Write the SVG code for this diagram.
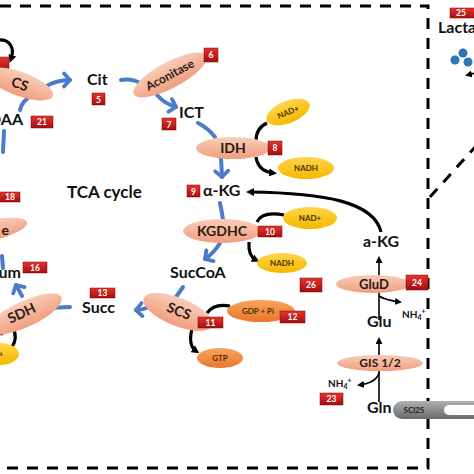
<svg xmlns="http://www.w3.org/2000/svg" width="474" height="474" viewBox="0 0 474 474">
<defs>
<linearGradient id="gS" x1="0" y1="0" x2="0" y2="1"><stop offset="0" stop-color="#F9CDB9"/><stop offset="1" stop-color="#F09E7E"/></linearGradient>
<linearGradient id="gY" x1="0" y1="0" x2="0" y2="1"><stop offset="0" stop-color="#FFD54A"/><stop offset="1" stop-color="#F5B800"/></linearGradient>
<linearGradient id="gO" x1="0" y1="0" x2="0" y2="1"><stop offset="0" stop-color="#F7A45E"/><stop offset="1" stop-color="#E8772A"/></linearGradient>
<linearGradient id="gR" x1="0" y1="0" x2="0" y2="1"><stop offset="0" stop-color="#E8332E"/><stop offset="1" stop-color="#A50F0F"/></linearGradient>
<linearGradient id="gG" x1="0" y1="0" x2="0" y2="1"><stop offset="0" stop-color="#B0B0B0"/><stop offset="1" stop-color="#6A6A6A"/></linearGradient>
<marker id="bh" markerWidth="20" markerHeight="20" refX="0" refY="0" orient="auto" markerUnits="userSpaceOnUse" viewBox="-10 -10 20 20">
<path d="M-6,-6.5 L0,0 L-6,6.5" fill="none" stroke="#4A7CC9" stroke-width="3.8" stroke-linecap="round" stroke-linejoin="round"/>
</marker>
<marker id="kh" markerWidth="8" markerHeight="8" refX="4" refY="4" orient="auto" markerUnits="userSpaceOnUse" viewBox="0 0 8 8">
<path d="M0,0 L8,4 L0,8 z" fill="#000"/>
</marker>
<marker id="th" markerWidth="7" markerHeight="7" refX="5" refY="3.5" orient="auto" markerUnits="userSpaceOnUse" viewBox="0 0 7 7">
<path d="M0,0 L7,3.5 L0,7 z" fill="#000"/>
</marker>
<style>
.dash{fill:none;stroke:#000;stroke-width:3;stroke-dasharray:11 9}
.blue{fill:none;stroke:#4A7CC9;stroke-width:4;stroke-linecap:round}
.blk{fill:none;stroke:#000;stroke-width:3.2}
.thin{fill:none;stroke:#000;stroke-width:1.6}
.enz{fill:url(#gS)}
.yel{fill:url(#gY)}
.org{fill:url(#gO)}
.red{fill:url(#gR);stroke:#7A0A0A;stroke-width:0.5}
.met{font-family:Lato,"Liberation Sans",sans-serif;font-weight:bold;font-size:16px;fill:#111}
.et{font-family:Lato,"Liberation Sans",sans-serif;font-weight:bold;font-size:14px;fill:#2a1a14;text-anchor:middle}
.sm{font-family:Lato,"Liberation Sans",sans-serif;font-weight:bold;font-size:8px;fill:#4a3000;text-anchor:middle}
.rt{font-family:Lato,"Liberation Sans",sans-serif;font-weight:bold;font-size:8.5px;fill:#fff;text-anchor:middle}
</style>
</defs>

<g id="box">
<path class="dash" d="M0,6 L428,6 L428,468 L0,468"/>
<path class="dash" d="M430,197 L476,146"/>
</g>

<g id="connectors">
<path class="blue" d="M45,87 Q56,80 70,80" marker-end="url(#bh)"/>
<path class="blue" d="M20,110 Q22,101 31,96"/>
<path class="blue" d="M3,152 L4,131"/>
<path class="blue" d="M121,80 Q132,78 142,84"/>
<path class="blue" d="M157,95 Q165,104 176,107" marker-end="url(#bh)"/>
<path class="blue" d="M198,123 Q208,128 215,137"/>
<path class="blue" d="M221,158 L222,177" marker-end="url(#bh)"/>
<path class="blue" d="M220,203 Q222,212 223,220"/>
<path class="blue" d="M220,243 Q214,253 205,259" marker-end="url(#bh)"/>
<path class="blue" d="M183,287 L176,297"/>
<path class="blue" d="M160,301 Q150,309 136,310" marker-end="url(#bh)"/>
<path class="blue" d="M70,307 L50,308"/>
<path class="blue" d="M22,296 L16,285" marker-end="url(#bh)"/>
<path class="blue" d="M3,268 L2,256"/>

<path class="blk" d="M-2,40 C10,39 15,48 11,59" marker-end="url(#kh)"/>
<path class="blk" d="M256,141 Q256,128 267,123"/>
<path class="blk" d="M256,157 Q258,171 273,173" marker-end="url(#kh)"/>
<path class="blk" d="M381,232 C374,202 325,193 250,192" marker-end="url(#kh)"/>
<path class="blk" d="M257,222 Q262,211 284,215"/>
<path class="blk" d="M249,242 Q248,256 256,260" marker-end="url(#kh)"/>
<path class="blk" d="M207,313 Q214,303 230,306"/>
<path class="blk" d="M193,325 Q187,345 196,351" marker-end="url(#kh)"/>
<path class="blk" d="M13,328 Q18,338 12,347"/>

<path class="thin" d="M379,276 L379,258" marker-end="url(#th)"/>
<path class="thin" d="M379,320 L379,292"/>
<path class="thin" d="M379,296 Q385,300 400,302" marker-end="url(#th)"/>
<path class="thin" d="M379,357 L379,339" marker-end="url(#th)"/>
<path class="thin" d="M379,402 L379,368"/>
<path class="thin" d="M379,373 Q376,383 359,385" marker-end="url(#th)"/>
<path class="thin" d="M480,410 L452,410" marker-end="url(#th)"/>
<path class="thin" d="M480,72 L467,75" marker-end="url(#th)"/>
</g>

<g id="CS">
<rect class="red" x="-5" y="57" width="14" height="15"/>
<ellipse class="enz" cx="20" cy="84" rx="35" ry="12" transform="rotate(20 20 84)"/>
<text class="et" x="20" y="89" transform="rotate(20 20 84)">CS</text>
</g>
<g id="Cit"><text class="met" x="87" y="85">Cit</text><rect class="red" x="92" y="93" width="13" height="12"/><text class="rt" x="98.5" y="102.5">5</text></g>
<g id="OAA"><text class="met" x="23" y="125" text-anchor="end">OAA</text><rect class="red" x="31" y="116" width="22" height="12"/><text class="rt" x="42" y="125">21</text></g>
<g id="Aconitase">
<ellipse class="enz" cx="170" cy="75" rx="41" ry="13" transform="rotate(-28 170 75)"/>
<text class="et" x="170" y="79" transform="rotate(-28 170 75)" style="font-size:12px">Aconitase</text>
<rect class="red" x="204" y="48" width="14" height="14"/><text class="rt" x="211" y="58">6</text>
</g>
<g id="ICT"><text class="met" x="179" y="118">ICT</text><rect class="red" x="162" y="118" width="14" height="12"/><text class="rt" x="169" y="127.5">7</text></g>
<g id="IDH">
<ellipse class="enz" cx="233" cy="148" rx="37" ry="11"/>
<text class="et" x="233" y="153">IDH</text>
<rect class="red" x="268" y="141" width="14" height="14"/><text class="rt" x="275" y="151">8</text>
</g>
<g id="NAD1"><ellipse class="yel" cx="288" cy="112" rx="23" ry="11" transform="rotate(-22 288 112)"/><text class="sm" x="288" y="115" transform="rotate(-22 288 112)">NAD+</text></g>
<g id="NADH1"><ellipse class="yel" cx="306" cy="168" rx="28" ry="11"/><text class="sm" x="306" y="171">NADH</text></g>
<g id="aKG"><rect class="red" x="187" y="185" width="13" height="12"/><text class="rt" x="193.5" y="194.5">9</text><text class="met" x="203" y="196">α-KG</text></g>
<g id="TCA"><text class="met" x="67" y="198" style="font-size:17px">TCA cycle</text></g>
<g id="KGDHC">
<ellipse class="enz" cx="222" cy="231" rx="39" ry="12"/>
<text class="et" x="222" y="236">KGDHC</text>
<rect class="red" x="258" y="226" width="24" height="11"/><text class="rt" x="270" y="234.5">10</text>
</g>
<g id="NAD2"><ellipse class="yel" cx="310" cy="218" rx="27" ry="11"/><text class="sm" x="310" y="221">NAD+</text></g>
<g id="NADH2"><ellipse class="yel" cx="282" cy="263" rx="25" ry="10"/><text class="sm" x="282" y="266">NADH</text></g>
<g id="L26"><rect class="red" x="300" y="278" width="22" height="14"/><text class="rt" x="311" y="288">26</text></g>
<g id="SucCoA"><text class="met" x="170" y="278">SucCoA</text></g>
<g id="SCS">
<ellipse class="enz" cx="178" cy="312" rx="37" ry="14" transform="rotate(22 178 312)"/>
<text class="et" x="179" y="316" transform="rotate(22 179 311)">SCS</text>
<rect class="red" x="198" y="317" width="25" height="11"/><text class="rt" x="210.5" y="325.5">11</text>
</g>
<g id="GDP"><ellipse class="org" cx="261" cy="311" rx="34" ry="11"/><text class="sm" x="258" y="314">GDP + Pi</text><rect class="red" x="280" y="311" width="25" height="12"/><text class="rt" x="292.5" y="320">12</text></g>
<g id="GTP"><ellipse class="org" cx="220" cy="358" rx="23" ry="10"/><text class="sm" x="220" y="361">GTP</text></g>
<g id="Succ"><text class="met" x="82" y="313">Succ</text><rect class="red" x="90" y="288" width="25" height="10"/><text class="rt" x="102.5" y="296">13</text></g>
<g id="SDH">
<rect class="red" x="-5" y="323" width="8" height="12"/>
<ellipse class="enz" cx="25" cy="314" rx="40" ry="13" transform="rotate(-25 25 314)"/>
<text class="et" x="22" y="318" transform="rotate(-25 22 314)">SDH</text>
</g>
<g id="FAD"><ellipse class="yel" cx="0" cy="354" rx="19" ry="11"/><text class="sm" x="1" y="357">+</text></g>
<g id="Fum"><text class="met" x="21" y="278" text-anchor="end">Fum</text><rect class="red" x="23" y="262" width="24" height="11"/><text class="rt" x="35" y="270.5">16</text></g>
<g id="Fumarase">
<ellipse class="enz" cx="-8" cy="230" rx="36" ry="10" transform="rotate(-12 -8 230)"/>
<text class="et" x="9" y="235" style="text-anchor:end">e</text>
<rect class="red" x="-5" y="192" width="25" height="10"/><text class="rt" x="10" y="200">18</text>
</g>

<g id="aKG2"><text class="met" x="363" y="247">a-KG</text></g>
<g id="GluD">
<ellipse class="enz" cx="373" cy="284" rx="37" ry="9"/>
<text class="et" x="374" y="289" style="font-size:13px">GluD</text>
<rect class="red" x="406" y="275" width="22" height="15"/><text class="rt" x="417" y="285.5">24</text>
</g>
<g id="NH4a"><text class="met" x="402" y="318" style="font-size:10px">NH<tspan dy="2" style="font-size:7px">4</tspan><tspan dy="-6" style="font-size:7px">+</tspan></text></g>
<g id="Glu"><text class="met" x="367" y="327">Glu</text></g>
<g id="GIS">
<ellipse class="enz" cx="380" cy="363" rx="43" ry="8"/>
<text class="et" x="380" y="367" style="font-size:12px">GIS 1/2</text>
</g>
<g id="NH4b"><text class="met" x="328" y="387" style="font-size:10px">NH<tspan dy="2" style="font-size:7px">4</tspan><tspan dy="-6" style="font-size:7px">+</tspan></text><rect class="red" x="320" y="393" width="23" height="12"/><text class="rt" x="331.5" y="402">23</text></g>
<g id="Gln"><text class="met" x="367" y="413">Gln</text></g>
<g id="SCl25">
<rect x="393" y="401" width="90" height="18" rx="9" fill="url(#gG)"/>
<rect x="444" y="405" width="40" height="10" rx="5" fill="#fff"/>
<text class="sm" x="414" y="413" style="fill:#222">SCl25</text>
</g>
<g id="Lactate">
<rect class="red" x="450" y="8" width="28" height="10"/><text class="rt" x="461" y="16">25</text>
<text class="met" x="438" y="33">Lactate</text>
<circle cx="463" cy="53" r="4.5" fill="#2E75B6"/><circle cx="455" cy="60" r="4.5" fill="#2E75B6"/><circle cx="468" cy="62" r="4.5" fill="#2E75B6"/>
</g>
</svg>
